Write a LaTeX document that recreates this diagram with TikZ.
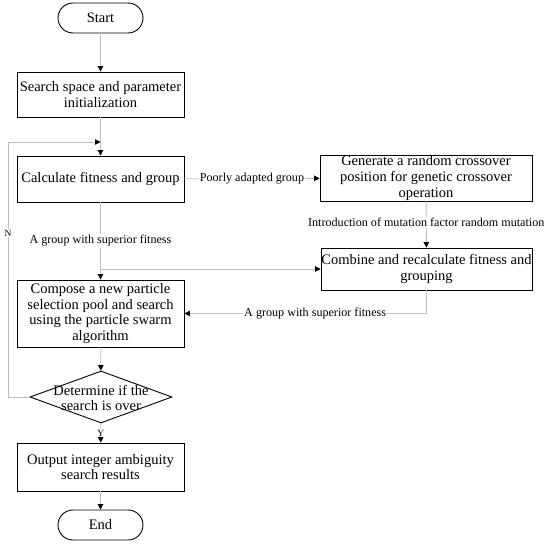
\documentclass[tikz,border=0pt]{standalone}
\usepackage{fontspec}
\setmainfont{Liberation Serif}
\usetikzlibrary{shapes.geometric,arrows.meta}
\definecolor{conn}{HTML}{BDBDBD}
\tikzset{
  box/.style={draw=black, line width=0.9pt, rectangle, align=center, inner sep=0pt,
    font=\fontsize{14.5}{15.8}\selectfont},
  term/.style={box, rounded corners=15pt, minimum width=85pt, minimum height=30pt},
  conn/.style={draw=conn, line width=0.9pt},
  arr/.style={conn, -{Triangle[length=5.5pt,width=5.5pt,color=black,fill=black]}},
  lbl/.style={fill=white, inner sep=1pt, font=\fontsize{12.1}{13}\selectfont},
  yn/.style={fill=white, inner sep=1pt, font=\fontsize{9.5}{10}\selectfont},
}
\begin{document}
\begin{tikzpicture}[x=1pt,y=-1pt]
\useasboundingbox (0,0) rectangle (550,544);
\node[term] (start) at (100.5,18) {Start};
\node[box, minimum width=167pt, minimum height=45pt] (b1) at (100.5,94.5) {Search space and parameter\\initialization};
\node[box, minimum width=167pt, minimum height=46pt] (b2) at (100.5,179) {Calculate fitness and group};
\node[box, minimum width=212pt, minimum height=46pt] (b3) at (426,178) {Generate a random crossover\\position for genetic crossover\\operation};
\node[box, minimum width=211pt, minimum height=42pt] (b4) at (426.5,269) {Combine and recalculate fitness and\\grouping};
\node[box, minimum width=167pt, minimum height=67pt] (b5) at (100.5,313.5) {Compose a new particle\\selection pool and search\\using the particle swarm\\algorithm};
\node[draw=black, line width=0.9pt, diamond, minimum width=142pt, minimum height=52pt, inner sep=0pt] (dia) at (101,397) {};
\node[align=center, inner sep=0pt, font=\fontsize{14.5}{15.8}\selectfont] (diatext) at (101,398) {Determine if the\\search is over};
\node[box, minimum width=167pt, minimum height=48pt] (b6) at (100.5,467) {Output integer ambiguity\\search results};
\node[term] (end) at (100.5,525) {End};

\coordinate (j1) at (100.5,142);
\coordinate (nl) at (8,142);
\coordinate (j2) at (100.5,269);

\draw[arr] (start) -- (b1);
\draw[arr] (b1) -- (b2);
\draw[arr] (dia.west) -| (nl) -- (j1);
\node[yn] (nlab) at (8,233) {N};
\draw[arr] (b2) -- node[lbl] {Poorly adapted group} (b3);
\draw[arr] (b3) -- node[lbl, pos=0.45] {Introduction of mutation factor random mutation} (b4);
\draw[arr] (b2) -- (b5);
\draw[arr] (j2) -- (b4.west);
\node[lbl] (glab) at (100.5,241) {A group with superior fitness};
\draw[arr] (b4.south) |- node[lbl, pos=0.73] {A group with superior fitness} (b5.east);
\draw[arr] (b5) -- (dia);
\draw[arr] (dia) -- node[yn, pos=0.5] {Y} (b6);
\draw[arr] (b6) -- (end);
\end{tikzpicture}
\end{document}
